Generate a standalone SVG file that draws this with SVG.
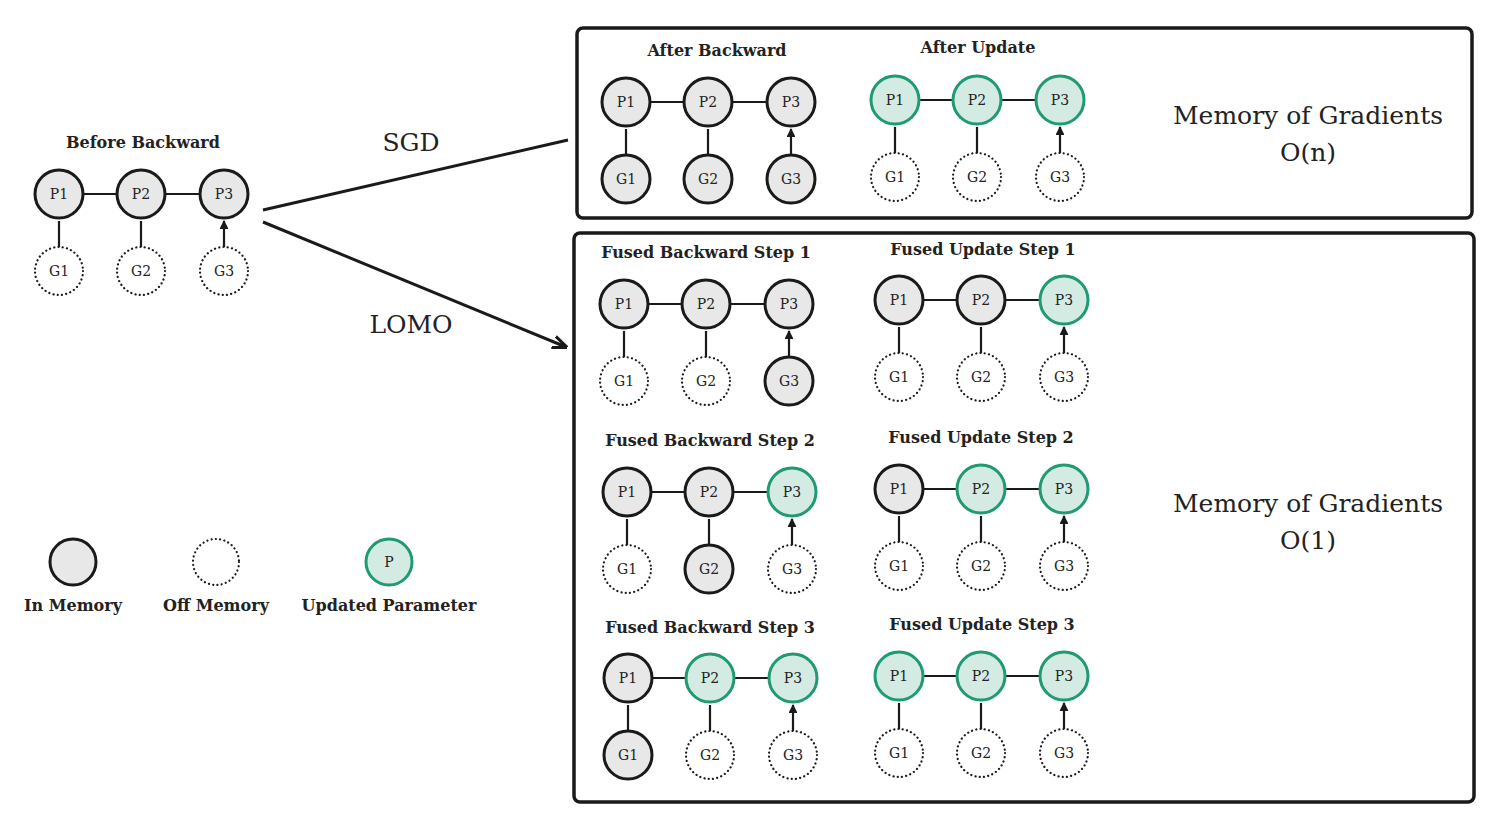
<svg xmlns="http://www.w3.org/2000/svg" width="1502" height="829" viewBox="0 0 1502 829">
<style>
text{font-family:"DejaVu Serif","Liberation Serif",serif;fill:#222;text-anchor:middle}
.t{font-size:16px;font-weight:bold}
.n{font-size:14px;dominant-baseline:central}
.big{font-size:25px}
.g{fill:#e8e8e8;stroke:#1a1a1a;stroke-width:3}
.u{fill:#d4ebe3;stroke:#1f9a73;stroke-width:3}
.d{fill:#fff;stroke:#1a1a1a;stroke-width:2.2;stroke-dasharray:0.1 4.2;stroke-linecap:round}
.e{stroke:#1a1a1a;stroke-width:2.2;fill:none;marker-end:url(#a)}
.box{fill:none;stroke:#1a1a1a;stroke-width:3.5}
</style>
<defs>
<marker id="a" viewBox="0 0 10 10" refX="9" refY="5" markerWidth="4" markerHeight="4" orient="auto"><path d="M0,0L10,5L0,10z" fill="#1a1a1a"/></marker>
<marker id="b" viewBox="0 0 10 10" refX="9" refY="5" markerWidth="5" markerHeight="5" orient="auto"><path d="M0,1L10,5L0,9" fill="none" stroke="#1a1a1a" stroke-width="2"/></marker>
<g id="edges"><path class="e" d="M24,0H57M106,0H140M0,53V27M82,53V27M165,53V27"/></g>
</defs>
<rect class="box" x="577" y="28" width="895" height="190" rx="6"/>
<rect class="box" x="574" y="233" width="900" height="569" rx="6"/>
<g id="connectors">
<use href="#edges" transform="translate(59,194)"/>
<use href="#edges" transform="translate(626,102)"/>
<use href="#edges" transform="translate(895,100)"/>
<use href="#edges" transform="translate(624,304)"/>
<use href="#edges" transform="translate(899,300)"/>
<use href="#edges" transform="translate(627,492)"/>
<use href="#edges" transform="translate(899,489)"/>
<use href="#edges" transform="translate(628,678)"/>
<use href="#edges" transform="translate(899,676)"/>
<path d="M263,210L568,140M263,222L566,347" stroke="#1a1a1a" stroke-width="3" fill="none" marker-end="url(#b)"/>
</g>
<text class="t" x="143" y="148">Before Backward</text>
<text class="t" x="717" y="56">After Backward</text>
<text class="t" x="978" y="53">After Update</text>
<text class="t" x="706" y="258">Fused Backward Step 1</text>
<text class="t" x="983" y="255">Fused Update Step 1</text>
<text class="t" x="710" y="446">Fused Backward Step 2</text>
<text class="t" x="981" y="443">Fused Update Step 2</text>
<text class="t" x="710" y="633">Fused Backward Step 3</text>
<text class="t" x="982" y="630">Fused Update Step 3</text>
<text class="big" x="411" y="151">SGD</text>
<text class="big" x="411" y="333">LOMO</text>
<text class="big" x="1308" y="124">Memory of Gradients</text>
<text class="big" x="1308" y="161">O(n)</text>
<text class="big" x="1308" y="512">Memory of Gradients</text>
<text class="big" x="1308" y="549">O(1)</text>
<!-- Before Backward -->
<g transform="translate(59,194)">
<g id="bb-p1"><circle class="g" r="24"/><text class="n">P1</text></g>
<g id="bb-p2"><circle class="g" cx="82" r="24"/><text class="n" x="82">P2</text></g>
<g id="bb-p3"><circle class="g" cx="165" r="24"/><text class="n" x="165">P3</text></g>
<g id="bb-g1"><circle class="d" cy="77" r="24"/><text class="n" y="77">G1</text></g>
<g id="bb-g2"><circle class="d" cx="82" cy="77" r="24"/><text class="n" x="82" y="77">G2</text></g>
<g id="bb-g3"><circle class="d" cx="165" cy="77" r="24"/><text class="n" x="165" y="77">G3</text></g>
</g>
<g transform="translate(626,102)">
<g id="ab-p1"><circle class="g" r="24"/><text class="n">P1</text></g>
<g id="ab-p2"><circle class="g" cx="82" r="24"/><text class="n" x="82">P2</text></g>
<g id="ab-p3"><circle class="g" cx="165" r="24"/><text class="n" x="165">P3</text></g>
<g id="ab-g1"><circle class="g" cy="77" r="24"/><text class="n" y="77">G1</text></g>
<g id="ab-g2"><circle class="g" cx="82" cy="77" r="24"/><text class="n" x="82" y="77">G2</text></g>
<g id="ab-g3"><circle class="g" cx="165" cy="77" r="24"/><text class="n" x="165" y="77">G3</text></g>
</g>
<g transform="translate(895,100)">
<g id="au-p1"><circle class="u" r="24"/><text class="n">P1</text></g>
<g id="au-p2"><circle class="u" cx="82" r="24"/><text class="n" x="82">P2</text></g>
<g id="au-p3"><circle class="u" cx="165" r="24"/><text class="n" x="165">P3</text></g>
<g id="au-g1"><circle class="d" cy="77" r="24"/><text class="n" y="77">G1</text></g>
<g id="au-g2"><circle class="d" cx="82" cy="77" r="24"/><text class="n" x="82" y="77">G2</text></g>
<g id="au-g3"><circle class="d" cx="165" cy="77" r="24"/><text class="n" x="165" y="77">G3</text></g>
</g>
<g transform="translate(624,304)">
<g id="fb1-p1"><circle class="g" r="24"/><text class="n">P1</text></g>
<g id="fb1-p2"><circle class="g" cx="82" r="24"/><text class="n" x="82">P2</text></g>
<g id="fb1-p3"><circle class="g" cx="165" r="24"/><text class="n" x="165">P3</text></g>
<g id="fb1-g1"><circle class="d" cy="77" r="24"/><text class="n" y="77">G1</text></g>
<g id="fb1-g2"><circle class="d" cx="82" cy="77" r="24"/><text class="n" x="82" y="77">G2</text></g>
<g id="fb1-g3"><circle class="g" cx="165" cy="77" r="24"/><text class="n" x="165" y="77">G3</text></g>
</g>
<g transform="translate(899,300)">
<g id="fu1-p1"><circle class="g" r="24"/><text class="n">P1</text></g>
<g id="fu1-p2"><circle class="g" cx="82" r="24"/><text class="n" x="82">P2</text></g>
<g id="fu1-p3"><circle class="u" cx="165" r="24"/><text class="n" x="165">P3</text></g>
<g id="fu1-g1"><circle class="d" cy="77" r="24"/><text class="n" y="77">G1</text></g>
<g id="fu1-g2"><circle class="d" cx="82" cy="77" r="24"/><text class="n" x="82" y="77">G2</text></g>
<g id="fu1-g3"><circle class="d" cx="165" cy="77" r="24"/><text class="n" x="165" y="77">G3</text></g>
</g>
<g transform="translate(627,492)">
<g id="fb2-p1"><circle class="g" r="24"/><text class="n">P1</text></g>
<g id="fb2-p2"><circle class="g" cx="82" r="24"/><text class="n" x="82">P2</text></g>
<g id="fb2-p3"><circle class="u" cx="165" r="24"/><text class="n" x="165">P3</text></g>
<g id="fb2-g1"><circle class="d" cy="77" r="24"/><text class="n" y="77">G1</text></g>
<g id="fb2-g2"><circle class="g" cx="82" cy="77" r="24"/><text class="n" x="82" y="77">G2</text></g>
<g id="fb2-g3"><circle class="d" cx="165" cy="77" r="24"/><text class="n" x="165" y="77">G3</text></g>
</g>
<g transform="translate(899,489)">
<g id="fu2-p1"><circle class="g" r="24"/><text class="n">P1</text></g>
<g id="fu2-p2"><circle class="u" cx="82" r="24"/><text class="n" x="82">P2</text></g>
<g id="fu2-p3"><circle class="u" cx="165" r="24"/><text class="n" x="165">P3</text></g>
<g id="fu2-g1"><circle class="d" cy="77" r="24"/><text class="n" y="77">G1</text></g>
<g id="fu2-g2"><circle class="d" cx="82" cy="77" r="24"/><text class="n" x="82" y="77">G2</text></g>
<g id="fu2-g3"><circle class="d" cx="165" cy="77" r="24"/><text class="n" x="165" y="77">G3</text></g>
</g>
<g transform="translate(628,678)">
<g id="fb3-p1"><circle class="g" r="24"/><text class="n">P1</text></g>
<g id="fb3-p2"><circle class="u" cx="82" r="24"/><text class="n" x="82">P2</text></g>
<g id="fb3-p3"><circle class="u" cx="165" r="24"/><text class="n" x="165">P3</text></g>
<g id="fb3-g1"><circle class="g" cy="77" r="24"/><text class="n" y="77">G1</text></g>
<g id="fb3-g2"><circle class="d" cx="82" cy="77" r="24"/><text class="n" x="82" y="77">G2</text></g>
<g id="fb3-g3"><circle class="d" cx="165" cy="77" r="24"/><text class="n" x="165" y="77">G3</text></g>
</g>
<g transform="translate(899,676)">
<g id="fu3-p1"><circle class="u" r="24"/><text class="n">P1</text></g>
<g id="fu3-p2"><circle class="u" cx="82" r="24"/><text class="n" x="82">P2</text></g>
<g id="fu3-p3"><circle class="u" cx="165" r="24"/><text class="n" x="165">P3</text></g>
<g id="fu3-g1"><circle class="d" cy="77" r="24"/><text class="n" y="77">G1</text></g>
<g id="fu3-g2"><circle class="d" cx="82" cy="77" r="24"/><text class="n" x="82" y="77">G2</text></g>
<g id="fu3-g3"><circle class="d" cx="165" cy="77" r="24"/><text class="n" x="165" y="77">G3</text></g>
</g>
<g id="legend-in"><circle class="g" cx="73" cy="562" r="23"/><text class="t" x="73" y="611">In Memory</text></g>
<g id="legend-off"><circle class="d" cx="216" cy="562" r="23"/><text class="t" x="216" y="611">Off Memory</text></g>
<g id="legend-upd"><circle class="u" cx="389" cy="562" r="23"/><text class="n" x="389" y="562">P</text><text class="t" x="389" y="611">Updated Parameter</text></g>
</svg>
